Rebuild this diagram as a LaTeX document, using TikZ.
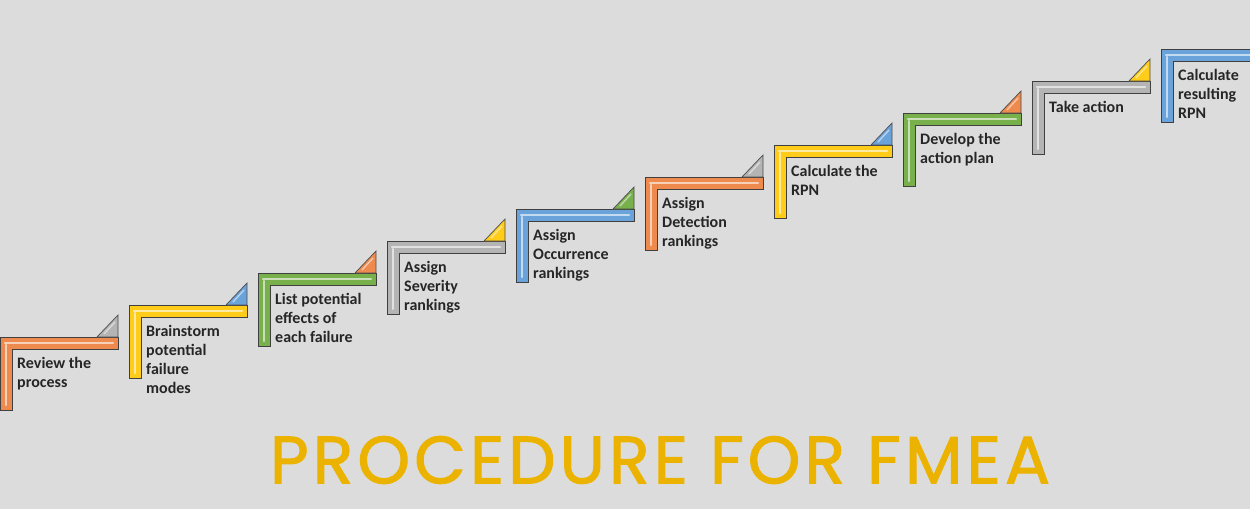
\documentclass[tikz,border=0pt]{standalone}
\usepackage{fontspec}
\setmainfont{Carlito}
\newfontfamily\titlefont[LetterSpace=6,FakeBold=1.5]{Poppins}
\definecolor{bg}{HTML}{DCDCDC}
\definecolor{cO}{HTML}{EE8A4E}
\definecolor{cY}{HTML}{FFCC1A}
\definecolor{cG}{HTML}{78B04C}
\definecolor{cS}{HTML}{B4B4B4}
\definecolor{cB}{HTML}{6AA3DA}
\definecolor{tcol}{HTML}{EBB300}
\tikzset{lab/.style={anchor=north west,font=\bfseries\fontsize{16}{19}\selectfont,align=left,inner sep=0pt,text=black!85}}
\begin{document}
\begin{tikzpicture}[x=1pt,y=-1pt]
\useasboundingbox (0,0) rectangle (1250,509);
\fill[bg] (0,0) rectangle (1250,509);
\foreach \i/\c/\t/\txt in {0/cO/cS/{Review the\\process},1/cY/cB/{Brainstorm\\potential\\failure\\modes},2/cG/cO/{List potential\\effects of\\each failure},3/cS/cY/{Assign\\Severity\\rankings},4/cB/cG/{Assign\\Occurrence\\rankings},5/cO/cS/{Assign\\Detection\\rankings},6/cY/cB/{Calculate the\\RPN},7/cG/cO/{Develop the\\action plan},8/cS/cY/{Take action},9/cB/cB/{Calculate\\resulting\\RPN}}{
 \pgfmathsetmacro\X{\i*129}
 \pgfmathsetmacro\Y{337-\i*32}
 \begin{scope}[shift={(\X,\Y)}]
  \filldraw[fill=\c,draw=black!75,line width=0.8pt] (0,0) -- (118,0) -- (118,12) -- (12,12) -- (12,73) -- (0,73) -- cycle;
  \draw[white,opacity=0.6,line width=2.5pt,line cap=round] (5,6) -- (113,6);
  \draw[white,opacity=0.6,line width=2.5pt,line cap=round] (6,8) -- (6,68);
  \node[lab] (s\i) at (17,20) {\txt};
  \ifnum\i<9
   \filldraw[fill=\t,draw=black!70,line width=0.7pt] (97,0) -- (118,-22) -- (118,0) -- cycle;
   \draw[white,opacity=0.5,line width=1.5pt] (104,-3) -- (115,-15);
  \fi
 \end{scope}
}
\node[font=\titlefont\fontsize{67}{69}\selectfont,text=tcol] (title) at (660,460) {PROCEDURE FOR FMEA};
\end{tikzpicture}
\end{document}
